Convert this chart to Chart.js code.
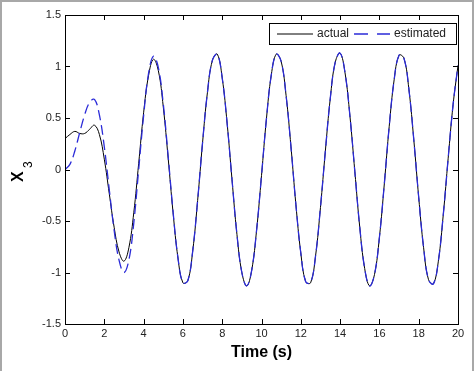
<!DOCTYPE html>
<html>
<head>
<meta charset="utf-8">
<script src="https://cdn.jsdelivr.net/npm/chart.js@4"></script>
<style>
  html, body { margin: 0; padding: 0; background: #fff; }
  #frame { position: absolute; left: 0; top: 0; width: 474px; height: 371px; box-sizing: border-box;
           border-top: 2px solid #a8a8a8; border-left: 2px solid #a8a8a8; border-right: 2px solid #a8a8a8; }
  #chart { position: absolute; left: 0; top: 0; }
</style>
</head>
<body>
<div id="frame"></div>
<canvas id="chart" width="474" height="371"></canvas>
<script>
// time samples (s)
const TIME = [
  0, 0.25, 0.5, 0.75, 1, 1.25, 1.5, 1.75, 2, 2.25, 2.5, 2.75, 3, 3.25, 3.5, 3.75, 4, 4.25, 4.5, 4.75,
  5, 5.25, 5.5, 5.75, 6, 6.25, 6.5, 6.75, 7, 7.25, 7.5, 7.75, 8, 8.25, 8.5, 8.75, 9, 9.25, 9.5, 9.75,
  10, 10.25, 10.5, 10.75, 11, 11.25, 11.5, 11.75, 12, 12.25, 12.5, 12.75, 13, 13.25, 13.5, 13.75, 14, 14.25, 14.5, 14.75,
  15, 15.25, 15.5, 15.75, 16, 16.25, 16.5, 16.75, 17, 17.25, 17.5, 17.75, 18, 18.25, 18.5, 18.75, 19, 19.25, 19.5, 19.75,
  20
];

// x3 actual (solid black)
const ACTUAL = [
  0.30, 0.34, 0.37, 0.35, 0.35, 0.39, 0.43, 0.34, 0.10, -0.23, -0.56, -0.80, -0.89, -0.76, -0.42, 0.06, 0.55, 0.91, 1.07, 0.96,
  0.61, 0.11, -0.42, -0.86, -1.10, -1.08, -0.79, -0.30, 0.26, 0.75, 1.06, 1.12, 0.89, 0.45, -0.10, -0.63, -1.00, -1.13, -0.98, -0.59,
  -0.06, 0.49, 0.92, 1.12, 1.05, 0.72, 0.22, -0.34, -0.81, -1.09, -1.10, -0.84, -0.37, 0.18, 0.69, 1.04, 1.13, 0.94, 0.52, -0.02,
  -0.56, -0.96, -1.13, -1.02, -0.66, -0.14, 0.42, 0.87, 1.11, 1.08, 0.78, 0.29, -0.27, -0.76, -1.07, -1.11, -0.89, -0.44, 0.11, 0.63,
  1.01
];

// x3 estimated (dashed blue)
const ESTIMATED = [
  0.00, 0.05, 0.18, 0.36, 0.53, 0.65, 0.68, 0.53, 0.22, -0.19, -0.59, -0.88, -1.00, -0.88, -0.52, 0.00, 0.52, 0.93, 1.10, 0.99,
  0.64, 0.13, -0.41, -0.86, -1.10, -1.08, -0.79, -0.30, 0.26, 0.75, 1.06, 1.12, 0.89, 0.45, -0.10, -0.63, -1.00, -1.13, -0.98, -0.59,
  -0.06, 0.49, 0.92, 1.12, 1.05, 0.72, 0.22, -0.34, -0.81, -1.09, -1.10, -0.84, -0.37, 0.18, 0.69, 1.04, 1.13, 0.94, 0.52, -0.02,
  -0.56, -0.96, -1.13, -1.02, -0.66, -0.14, 0.42, 0.87, 1.11, 1.08, 0.78, 0.29, -0.27, -0.76, -1.07, -1.11, -0.89, -0.44, 0.11, 0.63,
  1.01
];

const SERIES_LABELS = ['actual', 'estimated'];
const Y_LABEL = 'X';
const Y_LABEL_SUB = '3';
const X_LABEL = 'Time (s)';

const FONT = "'Liberation Sans', Arial, sans-serif";

// frame + inward ticks on all four sides (matlab style)
const frameTicks = {
  id: 'frameTicks',
  afterDatasetsDraw(chart) {
    const { ctx, chartArea: a, scales: { x, y } } = chart;
    const len = 5;
    ctx.save();
    ctx.strokeStyle = '#000';
    ctx.lineWidth = 1;
    ctx.beginPath();
    x.ticks.forEach(t => {
      const px = Math.round(x.getPixelForValue(t.value)) + 0.5;
      ctx.moveTo(px, a.bottom); ctx.lineTo(px, a.bottom - len);
      ctx.moveTo(px, a.top); ctx.lineTo(px, a.top + len);
    });
    y.ticks.forEach(t => {
      const py = Math.round(y.getPixelForValue(t.value)) + 0.5;
      ctx.moveTo(a.left, py); ctx.lineTo(a.left + len, py);
      ctx.moveTo(a.right, py); ctx.lineTo(a.right - len, py);
    });
    ctx.stroke();
    ctx.strokeRect(Math.round(a.left) + 0.5, Math.round(a.top) + 0.5, Math.round(a.right - a.left), Math.round(a.bottom - a.top));
    ctx.restore();
  }
};

// boxed legend inside the top right corner
const boxLegend = {
  id: 'boxLegend',
  afterDraw(chart) {
    const { ctx, chartArea: a } = chart;
    const ds = chart.data.datasets;
    const bx = a.right - 189, by = a.top + 8, bw = 187, bh = 21;
    const cy = by + bh / 2 + 0.5;
    ctx.save();
    ctx.fillStyle = '#fff';
    ctx.fillRect(bx, by, bw, bh);
    ctx.strokeStyle = '#000';
    ctx.lineWidth = 1;
    ctx.strokeRect(bx + 0.5, by + 0.5, bw, bh);
    ctx.font = '12px ' + FONT;
    ctx.textBaseline = 'middle';
    ctx.fillStyle = '#222';
    let cx = bx + 8;
    ds.forEach((d, i) => {
      ctx.strokeStyle = d.borderColor;
      ctx.lineWidth = d.borderWidth;
      ctx.setLineDash(d.borderDash ? [14, 9] : []);
      ctx.beginPath();
      ctx.moveTo(cx, cy); ctx.lineTo(cx + 36, cy);
      ctx.stroke();
      ctx.setLineDash([]);
      ctx.fillText(d.label, cx + 40, cy);
      cx += 40 + ctx.measureText(d.label).width + 5;
    });
    ctx.restore();
  }
};

// y label with subscript, rotated
const yTitle = {
  id: 'yTitle',
  afterDraw(chart) {
    const { ctx } = chart;
    ctx.save();
    ctx.translate(23, 182);
    ctx.rotate(-Math.PI / 2);
    ctx.fillStyle = '#000';
    ctx.textAlign = 'left';
    ctx.textBaseline = 'alphabetic';
    ctx.font = 'bold 16px ' + FONT;
    ctx.fillText(Y_LABEL, 0, 0);
    ctx.font = '12px ' + FONT;
    ctx.fillText(Y_LABEL_SUB, 14, 9);
    ctx.restore();
  }
};

new Chart(document.getElementById('chart'), {
  type: 'line',
  data: {
    datasets: [
      { label: SERIES_LABELS[0], data: TIME.map((t, i) => ({ x: t, y: ACTUAL[i] })),
        borderColor: '#000', borderWidth: 1, pointRadius: 0, tension: 0.4, order: 2 },
      { label: SERIES_LABELS[1], data: TIME.map((t, i) => ({ x: t, y: ESTIMATED[i] })),
        borderColor: '#2b2bd8', borderWidth: 1.3, borderDash: [10, 5], pointRadius: 0, tension: 0.4, order: 1 }
    ]
  },
  options: {
    responsive: false,
    animation: false,
    devicePixelRatio: 1,
    layout: { padding: { left: 0, right: 16, top: 15, bottom: 0 } },
    plugins: { legend: { display: false }, tooltip: { enabled: false } },
    scales: {
      x: {
        type: 'linear', min: 0, max: 20,
        grid: { display: false, drawTicks: false }, border: { display: false },
        ticks: { stepSize: 2, padding: 3, color: '#222', font: { family: FONT, size: 11 }, maxRotation: 0 },
        title: { display: true, text: X_LABEL, color: '#000', padding: { top: 0, bottom: 9 }, font: { family: FONT, size: 16, weight: 'bold' } },
        afterFit: s => { s.height = 47; }
      },
      y: {
        min: -1.5, max: 1.5,
        grid: { display: false, drawTicks: false }, border: { display: false },
        ticks: { stepSize: 0.5, padding: 4, color: '#222', font: { family: FONT, size: 11 }, callback: v => String(v) },
        afterFit: s => { s.width = 65; }
      }
    }
  },
  plugins: [frameTicks, boxLegend, yTitle]
});
</script>
</body>
</html>
